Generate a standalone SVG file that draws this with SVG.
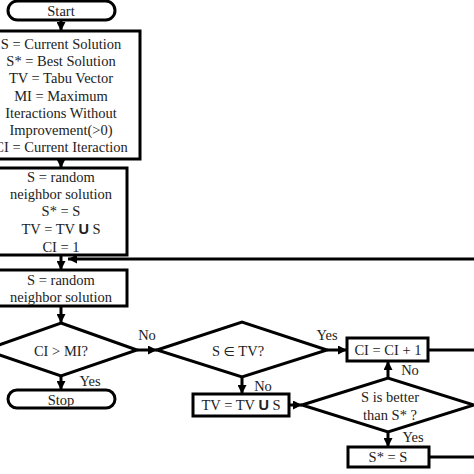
<svg xmlns="http://www.w3.org/2000/svg" width="474" height="474" viewBox="0 0 474 474">
<style>
.s{fill:#fff;stroke:#000;stroke-width:3}
.c{fill:none;stroke:#000;stroke-width:3}
text{font-family:"Liberation Serif","Times New Roman",serif;font-size:14.5px;fill:#222;text-anchor:middle}
.u{font-family:"Liberation Sans",Arial,sans-serif;font-weight:bold}
</style>
<defs>
<marker id="a" viewBox="0 0 10 10" refX="10" refY="5" markerWidth="9" markerHeight="9" markerUnits="userSpaceOnUse" orient="auto">
<path d="M0,0 L10,5 L0,10 z" fill="#000"/>
</marker>
</defs>
<rect width="474" height="474" fill="#fff"/>
<g id="connectors">
<line class="c" x1="61" y1="20" x2="61" y2="31" marker-end="url(#a)"/>
<line class="c" x1="61" y1="159" x2="61" y2="168" marker-end="url(#a)"/>
<line class="c" x1="61" y1="255" x2="61" y2="270" marker-end="url(#a)"/>
<line class="c" x1="474" y1="259" x2="68" y2="259" marker-end="url(#a)"/>
<line class="c" x1="61" y1="306" x2="61" y2="323" marker-end="url(#a)"/>
<line class="c" x1="61" y1="376" x2="61" y2="390" marker-end="url(#a)"/>
<line class="c" x1="137" y1="350" x2="157" y2="350" marker-end="url(#a)"/>
<line class="c" x1="327" y1="350" x2="347" y2="350" marker-end="url(#a)"/>
<line class="c" x1="428" y1="350" x2="474" y2="350"/>
<line class="c" x1="242" y1="377" x2="242" y2="394" marker-end="url(#a)"/>
<line class="c" x1="289" y1="405" x2="302" y2="405" marker-end="url(#a)"/>
<line class="c" x1="388" y1="378" x2="388" y2="361" marker-end="url(#a)"/>
<line class="c" x1="388" y1="432" x2="388" y2="447" marker-end="url(#a)"/>
<line class="c" x1="429" y1="457" x2="474" y2="457"/>
<text x="147" y="340">No</text>
<text x="90" y="386">Yes</text>
<text x="327" y="340">Yes</text>
<text x="263" y="391">No</text>
<text x="410" y="375">No</text>
<text x="413" y="442">Yes</text>
</g>
<g id="start">
<rect class="s" x="8" y="1" width="107" height="19" rx="9.5"/>
<text x="61" y="16">Start</text>
</g>
<g id="init">
<rect class="s" x="-18" y="31" width="158" height="128"/>
<text x="61" y="49">S = Current Solution</text>
<text x="61" y="66">S* = Best Solution</text>
<text x="61" y="83">TV = Tabu Vector</text>
<text x="61" y="101">MI = Maximum</text>
<text x="61" y="118">Iteractions Without</text>
<text x="61" y="135">Improvement(&gt;0)</text>
<text x="61" y="152">CI = Current Iteraction</text>
</g>
<g id="first">
<rect class="s" x="-5" y="168" width="132" height="87"/>
<text x="61" y="182">S = random</text>
<text x="61" y="199">neighbor solution</text>
<text x="61" y="216">S* = S</text>
<text x="61" y="234">TV = TV <tspan class="u">U</tspan> S</text>
<text x="61" y="252">CI = 1</text>
</g>
<g id="neighbor">
<rect class="s" x="-5" y="270" width="132" height="36"/>
<text x="61" y="285">S = random</text>
<text x="61" y="302">neighbor solution</text>
</g>
<g id="cimi">
<polygon class="s" points="61,323 137,350 61,376 -15,350"/>
<text x="61" y="356">CI &gt; MI?</text>
</g>
<g id="stop">
<rect class="s" x="8" y="390" width="107" height="18" rx="9"/>
<text x="61" y="405">Stop</text>
</g>
<g id="intv">
<polygon class="s" points="157,350 242,322 327,350 242,377"/>
<text x="238" y="356">S  <tspan font-family="DejaVu Sans" font-size="13">∈</tspan> TV?</text>
</g>
<g id="ciinc">
<rect class="s" x="347" y="338" width="81" height="23"/>
<text x="388" y="355">CI = CI + 1</text>
</g>
<g id="tvadd">
<rect class="s" x="193" y="394" width="96" height="22"/>
<text x="241" y="410">TV = TV <tspan class="u">U</tspan> S</text>
</g>
<g id="better">
<polygon class="s" points="302,405 388,378 474,405 388,432"/>
<text x="390" y="402">S  is better</text>
<text x="390" y="420">than  S* ?</text>
</g>
<g id="bestset">
<rect class="s" x="348" y="447" width="81" height="20"/>
<text x="388" y="462">S* = S</text>
</g>
</svg>
